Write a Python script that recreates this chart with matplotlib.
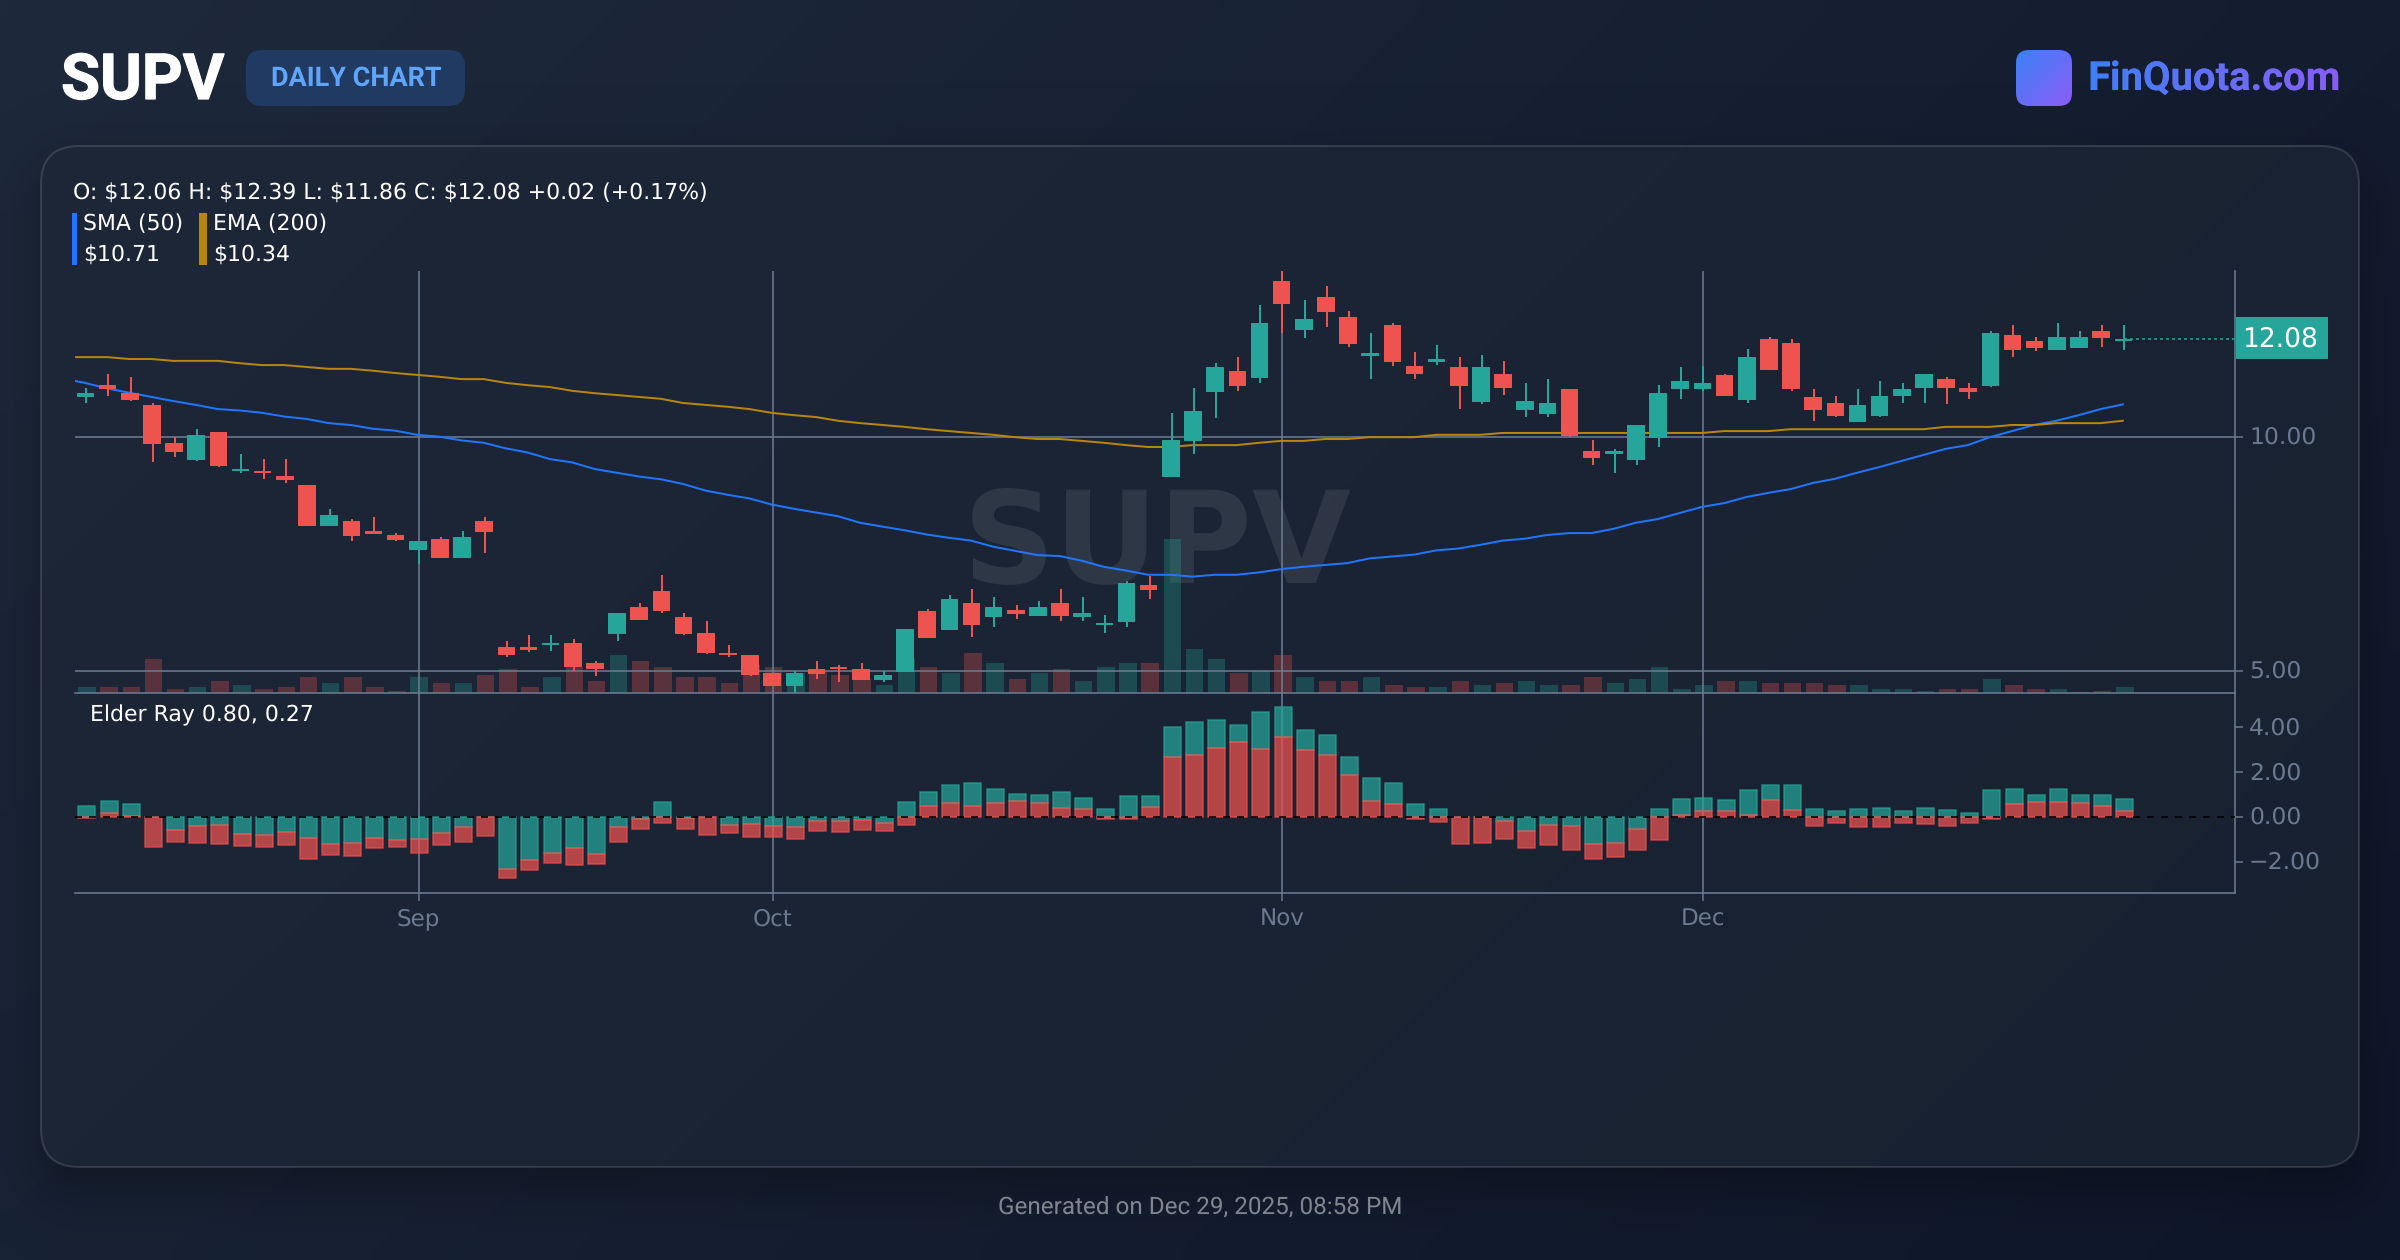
import numpy as np
import matplotlib
matplotlib.use("Agg")
import matplotlib.pyplot as plt
import matplotlib.patheffects as pe
from matplotlib.colors import to_rgba
from matplotlib.patches import FancyBboxPatch, Rectangle, PathPatch
from matplotlib.textpath import TextPath
from matplotlib.font_manager import FontProperties
from matplotlib.transforms import Affine2D, ScaledTranslation

# ---------------- data ----------------
opens = [10.86,11.10,10.93,10.67,9.86,9.53,10.11,9.28,9.26,9.17,8.96,8.12,8.19,7.98,7.89,7.61,7.81,7.44,8.19,
         5.50,5.50,5.56,5.59,5.16,5.81,6.36,6.70,6.14,5.80,5.37,5.33,4.95,4.70,5.03,5.07,5.03,4.83,5.00,6.27,5.90,6.44,
         6.16,6.29,6.20,6.44,6.16,5.99,6.07,6.83,9.15,9.92,10.98,11.40,11.28,13.32,12.31,12.98,12.55,11.75,12.38,11.52,11.62,
         11.48,10.77,11.35,10.60,10.51,11.01,9.69,9.66,9.53,10.00,11.03,11.03,11.31,10.81,12.08,12.00,10.84,10.71,10.34,10.47,10.90,
         11.07,11.23,11.05,11.11,12.17,12.04,11.88,11.92,12.25,12.06]
highs = [11.05,11.35,11.27,10.71,9.99,10.16,10.11,9.64,9.52,9.52,8.96,8.45,8.24,8.28,7.94,7.77,7.85,7.98,8.28,
         5.63,5.76,5.76,5.67,5.20,6.23,6.44,7.04,6.23,6.06,5.54,5.33,4.95,4.99,5.20,5.12,5.16,4.99,5.89,6.31,6.61,6.74,
         6.57,6.40,6.48,6.74,6.57,6.19,6.91,7.03,10.50,11.05,11.57,11.70,12.81,13.53,12.93,13.23,12.68,12.21,12.42,11.82,11.95,
         11.70,11.74,11.61,11.14,11.23,11.01,9.94,9.73,10.24,11.10,11.48,11.52,11.35,11.87,12.12,12.08,11.01,10.88,11.01,11.18,11.14,
         11.35,11.27,11.14,12.25,12.38,12.12,12.42,12.25,12.38,12.39]
lows = [10.73,10.86,10.77,9.45,9.57,9.49,9.36,9.23,9.10,9.02,8.12,8.12,7.78,7.95,7.78,7.27,7.40,7.40,7.52,
        5.30,5.39,5.43,5.00,4.88,5.64,6.11,6.24,5.77,5.35,5.30,4.88,4.70,4.53,4.83,4.75,4.83,4.75,5.00,5.73,5.90,5.73,
        5.94,6.11,6.20,6.07,6.07,5.81,5.94,6.54,9.15,9.62,10.39,10.98,11.15,12.22,12.10,12.35,11.92,11.24,11.50,11.24,11.54,
        10.60,10.69,10.90,10.43,10.43,10.00,9.40,9.23,9.40,9.79,10.81,10.98,10.90,10.73,11.45,10.98,10.34,10.43,10.34,10.43,10.73,
        10.73,10.69,10.81,11.07,11.71,11.84,11.88,11.92,11.92,11.86]
closes = [10.93,11.03,10.81,9.87,9.70,10.03,9.40,9.30,9.24,9.10,8.12,8.32,7.91,7.95,7.82,7.77,7.44,7.85,7.99,
          5.35,5.47,5.59,5.09,5.05,6.23,6.11,6.29,5.81,5.39,5.35,4.92,4.70,4.95,4.96,5.05,4.83,4.90,5.89,5.73,6.53,5.99,
          6.36,6.24,6.36,6.20,6.23,6.01,6.87,6.75,9.94,10.54,11.48,11.11,12.42,12.86,12.51,12.69,12.01,11.78,11.62,11.37,11.65,
          11.11,11.48,11.07,10.76,10.71,10.04,9.57,9.69,10.24,10.93,11.18,11.14,10.90,11.70,11.45,11.03,10.60,10.47,10.67,10.88,11.01,
          11.35,11.07,10.98,12.21,11.88,11.92,12.12,12.12,12.14,12.08]

sma50 = [11.24,11.15,11.03,10.94,10.85,10.76,10.68,10.59,10.56,10.51,10.43,10.38,10.29,10.25,10.17,10.13,10.04,10.00,9.92,9.87,9.75,9.66,
         9.52,9.45,9.31,9.23,9.15,9.09,8.99,8.85,8.76,8.68,8.55,8.46,8.38,8.30,8.16,8.08,8.00,7.91,7.84,7.78,7.65,
         7.56,7.47,7.45,7.35,7.22,7.14,7.05,7.05,7.01,7.05,7.05,7.10,7.17,7.22,7.26,7.30,7.40,7.44,7.48,7.57,7.61,
         7.69,7.78,7.82,7.90,7.94,7.94,8.03,8.16,8.24,8.37,8.50,8.58,8.71,8.80,8.88,9.01,9.10,9.23,9.35,9.48,
         9.61,9.74,9.82,9.99,10.12,10.25,10.34,10.46,10.59,10.69]
ema200 = [11.70,11.70,11.70,11.66,11.66,11.62,11.62,11.62,11.57,11.53,11.53,11.49,11.45,11.45,11.41,11.36,11.32,11.28,11.23,11.23,11.15,11.10,
          11.06,10.98,10.93,10.89,10.85,10.81,10.72,10.68,10.64,10.59,10.51,10.46,10.42,10.34,10.29,10.25,10.21,10.16,10.12,10.08,10.04,
          9.99,9.95,9.95,9.91,9.87,9.82,9.78,9.78,9.82,9.82,9.82,9.87,9.91,9.91,9.95,9.95,9.99,9.99,9.99,10.04,10.04,
          10.04,10.08,10.08,10.08,10.08,10.08,10.08,10.08,10.08,10.08,10.08,10.12,10.12,10.12,10.16,10.16,10.16,10.16,10.16,10.16,
          10.16,10.21,10.21,10.21,10.25,10.25,10.29,10.29,10.29,10.34]

volumes = [18,18,18,102,12,18,36,24,12,18,48,30,48,18,6,48,30,30,54,72,18,
           48,78,36,114,96,78,48,48,30,84,78,58,68,54,42,24,102,78,60,120,90,
           42,60,72,36,78,90,90,462,132,102,60,66,114,48,36,36,48,24,18,18,36,
           24,30,36,24,24,48,30,42,78,12,24,36,36,30,30,30,24,24,12,12,
           6,12,12,42,24,12,12,2,6,18]

bull_power = [0.47,0.69,0.57,-0.02,-0.60,-0.41,-0.36,-0.77,-0.83,-0.68,-0.93,-1.22,-1.19,-0.95,-1.04,-0.99,-0.71,-0.47,-0.03,
              -2.32,-1.91,-1.62,-1.38,-1.64,-0.45,-0.11,0.65,-0.06,-0.02,-0.36,-0.32,-0.41,-0.44,-0.17,-0.18,-0.14,-0.27,0.65,
              1.11,1.40,1.52,1.23,1.02,0.96,1.10,0.84,0.36,0.95,0.95,4.02,4.24,4.32,4.08,4.68,4.88,3.86,3.64,2.65,1.74,1.53,0.57,0.35,
              -0.02,-0.02,-0.17,-0.62,-0.36,-0.41,-1.22,-1.19,-0.56,0.36,0.80,0.84,0.75,1.20,1.44,1.41,0.35,0.26,0.35,0.39,0.26,0.39,0.29,0.18,
              1.20,1.26,0.99,1.25,0.98,0.99,0.80]
bear_power = [-0.04,0.16,0.05,-1.34,-1.11,-1.16,-1.20,-1.29,-1.35,-1.25,-1.89,-1.70,-1.76,-1.40,-1.34,-1.61,-1.26,-1.11,-0.84,
              -2.74,-2.39,-2.05,-2.17,-2.09,-1.11,-0.54,-0.26,-0.56,-0.81,-0.72,-0.89,-0.89,-0.98,-0.62,-0.68,-0.57,-0.65,-0.36,
              0.50,0.62,0.47,0.62,0.69,0.63,0.41,0.35,-0.09,-0.11,0.44,2.66,2.74,3.05,3.32,3.01,3.58,2.98,2.74,1.86,0.72,0.56,-0.10,-0.21,
              -1.22,-1.19,-0.98,-1.41,-1.26,-1.47,-1.88,-1.79,-1.49,-1.05,0.09,0.24,0.24,0.08,0.77,0.30,-0.39,-0.29,-0.44,-0.47,-0.26,-0.33,-0.39,-0.26,
              -0.08,0.57,0.68,0.68,0.62,0.48,0.27]

month_labels = ["Sep", "Oct", "Nov", "Dec"]
month_bars = [15, 31, 54, 73]
price_ticks = [5, 10]
elder_ticks = [-2, 0, 2, 4]
last_close = closes[-1]

# ---------------- style ----------------
W, H = 2400, 1260
DPI = 100
def pt(px): return px * 72 / DPI
TEAL, RED = "#26a69a", "#ef5350"
AXC = "#6b7a90"
SMA_C, EMA_C = "#2176ff", "#b8860b"
L, R, T, M, B = 75, 2235, 271, 692.7, 892.7
PX_BAR = 22.15
X0 = 85
LEG = 22.0

plt.rcParams["font.family"] = ["DejaVu Sans"]
plt.rcParams["text.hinting"] = "no_hinting"
plt.rcParams["text.parse_math"] = False
fig = plt.figure(figsize=(W / DPI, H / DPI), dpi=DPI)
label_up = ScaledTranslation(0, 1.5 / DPI, fig.dpi_scale_trans)

def rect(l, t, r, b):
    return [l / W, 1 - b / H, (r - l) / W, (b - t) / H]

# ---------------- page chrome ----------------
bg = fig.add_axes([0, 0, 1, 1], zorder=0)
bg.set_xlim(0, W); bg.set_ylim(H, 0); bg.axis("off"); bg.set_autoscale_on(False)

def gradient(c0, c1, ny=64, nx=128):
    yy, xx = np.mgrid[0:ny, 0:nx]
    t = ((xx / (nx - 1)) * W + (yy / (ny - 1)) * H) / (W + H)
    c0, c1 = np.array(c0) / 255, np.array(c1) / 255
    return c0[None, None, :] * (1 - t[..., None]) + c1[None, None, :] * t[..., None]

bg.imshow(gradient((30, 41, 59), (15, 23, 42)), extent=(0, W, H, 0), aspect="auto",
          interpolation="bilinear", zorder=0)

# soft shadow around the card
sy, sx = np.mgrid[0:H // 6, 0:W // 6] * 6.0
cx, cy, hw, hh, rad = 1200, 676, 1159, 510, 38
qx = np.abs(sx - cx) - (hw - rad)
qy = np.abs(sy - cy) - (hh - rad)
dist = np.hypot(np.maximum(qx, 0), np.maximum(qy, 0)) + np.minimum(np.maximum(qx, qy), 0) - rad
shadow = np.zeros(dist.shape + (4,))
shadow[..., 3] = 0.32 * 0.5 * (1 - np.tanh(dist / 38.0))
bg.imshow(shadow, extent=(0, W, H, 0), aspect="auto", interpolation="bilinear", zorder=0.5)

card = FancyBboxPatch((41, 146), 2318, 1021, boxstyle="round,pad=0,rounding_size=38",
                      fc="none", ec="none", transform=bg.transData, zorder=1)
bg.add_patch(card)
im = bg.imshow(gradient((29, 39, 56), (24, 33, 48)), extent=(0, W, H, 0), aspect="auto",
               interpolation="bilinear", zorder=1)
im.set_clip_path(card)
bg.add_patch(FancyBboxPatch((41, 146), 2318, 1021, boxstyle="round,pad=0,rounding_size=38",
                            fc="none", ec=(1, 1, 1, 0.13), lw=pt(2), zorder=2))

title = bg.text(61, 99, "SUPV", color="white", family="Roboto", weight="bold", size=pt(63.5),
                va="baseline", ha="left", zorder=3)
title.set_path_effects([pe.withStroke(linewidth=pt(1.2), foreground="white")])
bg.add_patch(FancyBboxPatch((246, 50), 219, 56, boxstyle="round,pad=0,rounding_size=16",
                            fc="#203a62", ec="none", zorder=3))
bg.text(356, 86, "DAILY CHART", color="#60a5fa", family="Roboto", weight="bold", size=pt(27),
        va="baseline", ha="center", zorder=4)

logo = FancyBboxPatch((2016, 50), 56, 56, boxstyle="round,pad=0,rounding_size=13",
                      fc="none", ec="none", zorder=3)
bg.add_patch(logo)
yy, xx = np.mgrid[0:32, 0:32] / 31
tt = ((xx + yy) / 2)[..., None]
logo_img = np.array([0.231, 0.510, 0.965]) * (1 - tt) + np.array([0.545, 0.361, 0.965]) * tt
li = bg.imshow(logo_img, extent=(2016, 2072, 106, 50), aspect="auto", interpolation="bilinear", zorder=3)
li.set_clip_path(logo)

brand = "FinQuota.com"
brand_fp = FontProperties(family="Roboto", weight="bold")
BRAND_PX = 40.0
bg.text(2088, 90, brand, color="#6a6cf6", fontproperties=brand_fp, size=pt(BRAND_PX), va="baseline", ha="left", zorder=4)
tp = TextPath((0, 0), brand, size=pt(BRAND_PX), prop=brand_fp)
tp_patch = PathPatch(tp, fc="none", ec="none",
                     transform=Affine2D().scale(DPI / 72, -DPI / 72).translate(2088, 90) + bg.transData)
bg.add_patch(tp_patch)
g = np.linspace(0, 1, 64)[None, :, None]
brand_img = np.array([0.231, 0.510, 0.965]) * (1 - g) + np.array([0.545, 0.361, 0.965]) * g
bi = bg.imshow(brand_img, extent=(2085, 2345, 112, 50), aspect="auto", zorder=5)
bi.set_clip_path(tp_patch)

bg.text(1200, 1207.5, "Generated on Dec 29, 2025, 08:58 PM", color="#80858f", family="Roboto",
        size=pt(24.2), va="center", ha="center", zorder=3)

# watermark below the panes
bg.text(1157, 547, "SUPV", color=(1, 1, 1, 0.09), weight="bold", size=pt(128), ha="center",
        va="center", zorder=3)

# legend block
bg.text(73, 193, "O: $12.06 H: $12.39 L: $11.86 C: $12.08 +0.02 (+0.17%)", color="white",
        size=pt(LEG), va="center", zorder=3)
bg.add_patch(Rectangle((72, 213), 5, 52, fc="#2176ff", ec="none", zorder=3))
bg.add_patch(Rectangle((199, 213), 8, 52, fc=EMA_C, ec="none", zorder=3))
bg.text(83, 224, "SMA (50)", color="white", size=pt(LEG), va="center", zorder=3)
bg.text(83, 254.5, "$10.71", color="white", size=pt(LEG), va="center", zorder=3)
bg.text(213, 224, "EMA (200)", color="white", size=pt(LEG), va="center", zorder=3)
bg.text(213, 254.5, "$10.34", color="white", size=pt(LEG), va="center", zorder=3)

# ---------------- panes ----------------
n = len(closes)
idx = np.arange(n)
xmin, xmax = (L - X0) / PX_BAR, (R - X0) / PX_BAR
wick_shift = 0.06
bar_shift = 0.09

# volume pane (behind the price pane)
ax_vol = fig.add_axes(rect(L, T, R, M), zorder=1)
ax_vol.patch.set_alpha(0)
ax_vol.axis("off")
ax_vol.set_xlim(xmin, xmax)
ax_vol.set_ylim(0, (M - T) * 3)
vol_colors = [TEAL if c > o else RED for o, c in zip(opens, closes)]
ax_vol.bar(idx + bar_shift, volumes, width=17.5 / PX_BAR, color=vol_colors, alpha=0.3, lw=0)

# price pane
ax = fig.add_axes(rect(L, T, R, M), zorder=2)
ax.patch.set_alpha(0)
ax.set_xlim(xmin, xmax)
ax.set_ylim(10 - (M - 436.7) / 46.8, 10 + (436.7 - T) / 46.8)
ax.yaxis.tick_right()
ax.set_yticks(price_ticks, [f"{v:.2f}" for v in price_ticks])
ax.set_xticks(np.array(month_bars) + wick_shift)
ax.tick_params(axis="x", length=0, labelbottom=False)
ax.tick_params(axis="y", length=pt(8), width=pt(1.5), color=AXC, labelcolor=AXC, labelsize=pt(23.5), pad=pt(6))
for lab in ax.get_yticklabels():
    lab.set_verticalalignment("center_baseline")
    lab.set_transform(lab.get_transform() + label_up)
ax.grid(True, color=AXC, lw=pt(1.6))
ax.set_axisbelow(True)
for s in ["top", "left", "bottom"]:
    ax.spines[s].set_visible(False)
ax.spines["right"].set_color(AXC)
ax.spines["right"].set_linewidth(pt(1.6))

line_x = np.arange(-1, n)
ax.plot(line_x, sma50, color=SMA_C, lw=pt(2), zorder=3, solid_joinstyle="round")
ax.plot(line_x, ema200, color=EMA_C, lw=pt(2), zorder=3, solid_joinstyle="round")

up = np.array(closes) > np.array(opens)
cols = np.where(up, TEAL, RED)
ax.vlines(idx + wick_shift, lows, highs, colors=cols, lw=pt(2), zorder=4)
body_lo = np.minimum(opens, closes)
body_h = np.abs(np.array(closes) - np.array(opens))
ax.bar(idx, body_h, bottom=body_lo, width=16.6 / PX_BAR, color=cols, edgecolor=cols, lw=pt(1), zorder=5)

ax.plot([n - 1 + wick_shift, xmax], [last_close, last_close], color=TEAL, lw=pt(1.5),
        ls=(0, (2, 2)), zorder=3)
ytr = ax.get_yaxis_transform()
ax.add_patch(Rectangle((1.0005, last_close + 0.03 - 0.445), 92 / (R - L), 0.89, transform=ytr,
                       fc=TEAL, ec="none", clip_on=False, zorder=6))
ax.text(1 + 7.5 / (R - L), last_close + 0.06, f"{last_close:.2f}", transform=ytr, color="white",
        size=pt(26.5), va="center_baseline", ha="left", clip_on=False, zorder=7)

# Elder Ray pane
ax2 = fig.add_axes(rect(L, M, R, B), zorder=2)
ax2.patch.set_alpha(0)
ax2.set_xlim(xmin, xmax)
Y0, U = 816.8, 22.4
ax2.set_ylim(-(B - Y0) / U, (Y0 - M) / U)
ax2.yaxis.tick_right()
ax2.set_yticks(elder_ticks, [f"{v:.2f}".replace("-", "\u2212") for v in elder_ticks])
ax2.set_xticks(np.array(month_bars) + wick_shift, month_labels)
ax2.tick_params(axis="x", length=pt(8), width=pt(1.5), color=AXC, labelcolor=AXC, labelsize=pt(23), pad=pt(7.5))
ax2.tick_params(axis="y", length=pt(8), width=pt(1.5), color=AXC, labelcolor=AXC, labelsize=pt(23.5), pad=pt(6))
for lab in ax2.get_yticklabels():
    lab.set_verticalalignment("center_baseline")
    lab.set_transform(lab.get_transform() + label_up)
ax2.grid(True, axis="x", color=AXC, lw=pt(1.6))
ax2.set_axisbelow(True)
ax2.spines["left"].set_visible(False)
for s in ["top", "bottom", "right"]:
    ax2.spines[s].set_color(AXC)
    ax2.spines[s].set_linewidth(pt(1.6))

# The shorter power bar is drawn from zero; the longer one only shows beyond it.
bull = np.array(bull_power)
bear = np.array(bear_power)
both_pos = (bull > 0) & (bear > 0)
both_neg = (bull < 0) & (bear < 0)
bull_base = np.where(both_pos, bear, 0.0)
bear_base = np.where(both_neg, bull, 0.0)
bw = 17.0 / PX_BAR
tc, rc = to_rgba(TEAL, 0.72), to_rgba(RED, 0.72)
ax2.bar(idx + bar_shift, bull - bull_base, bottom=bull_base, width=bw, color=tc, edgecolor=tc, lw=pt(1.5), zorder=2)
ax2.bar(idx + bar_shift, bear - bear_base, bottom=bear_base, width=bw, color=rc, edgecolor=rc, lw=pt(1.5), zorder=2.1)
ax2.axhline(0, color="black", lw=pt(2), ls=(0, (3.5, 3.5)), alpha=0.8, zorder=3)
ax2.text(14.6 / (R - L), 0.885, "Elder Ray 0.80, 0.27", transform=ax2.transAxes,
         color="white", size=pt(LEG), va="center", ha="left")

fig.savefig("out.png", dpi=DPI)
